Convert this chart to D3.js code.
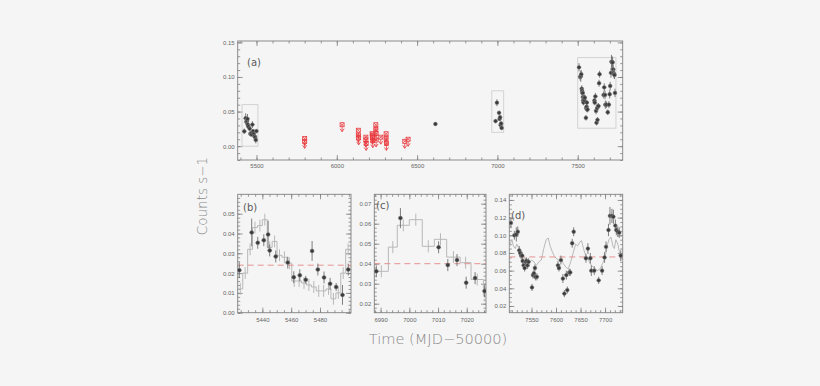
<!DOCTYPE html>
<html><head><meta charset="utf-8">
<script src="https://cdn.jsdelivr.net/npm/d3@7"></script>
<style>body{margin:0;background:#f5f5f5}</style>
</head><body>
<script>
// ---------------- DATA ----------------
// panel (b)
const bTime = [5424.0,5432.6,5436.8,5441.0,5444.0,5445.1,5449.3,5457.6,5461.8,5466.0,5470.1,5474.5,5478.5,5482.8,5487.0,5491.2,5495.6,5499.6];
const bRate = [0.0215,0.0405,0.0353,0.0366,0.0395,0.0314,0.0284,0.0253,0.0179,0.0189,0.0166,0.0312,0.0218,0.0178,0.0146,0.0130,0.0090,0.0218];
const bErr  = [0.004,0.007,0.003,0.003,0.007,0.003,0.003,0.003,0.003,0.003,0.002,0.005,0.003,0.003,0.003,0.002,0.005,0.003];
const bModelEdge = [5423,5426.4,5429.8,5433.2,5436.6,5440,5443.4,5446.8,5450.2,5453.6,5457,5460.4,5463.8,5467.2,5470.6,5474,5477.4,5480.8,5484.2,5487.6,5491,5494.4,5497.8,5501.2];
const bModelRate = [0.012,0.020,0.032,0.043,0.044,0.047,0.033,0.036,0.029,0.028,0.025,0.016,0.016,0.015,0.014,0.013,0.011,0.011,0.012,0.007,0.010,0.020,0.032];
const bMean = 0.024;

// panel (c)
const cTime = [6988.5,6996.9,7010.2,7013.4,7016.6,7019.8,7022.9,7026.2];
const cRate = [0.0362,0.0628,0.0482,0.0393,0.0418,0.0305,0.0328,0.0263];
const cErr  = [0.003,0.005,0.003,0.003,0.003,0.003,0.003,0.003];
const cModelEdge = [6987.8,6992.7,6995.8,7000,7004.5,7008.7,7013,7017.7,7021.5,7025.8,7027];
const cModelRate = [0.0362,0.0483,0.0592,0.062,0.0487,0.0522,0.0433,0.0405,0.0321,0.024];
const cMean = 0.040;

// panel (d)
const dTime = [7508,7515,7519,7522,7525,7527,7529,7531,7532,7534,7536,7538,7540,7542,7544,7551,7553,7555,7557,7558,7561,7604,7606,7610,7614,7617,7621,7623,7627,7629,7633,7636,7661,7665,7670,7672,7678,7687,7694,7699,7702,7707,7710,7714,7717,7721,7723,7726,7729,7732];
const dRate = [0.114,0.100,0.101,0.104,0.083,0.080,0.077,0.077,0.071,0.066,0.063,0.070,0.071,0.066,0.070,0.041,0.055,0.057,0.063,0.053,0.053,0.066,0.063,0.072,0.051,0.034,0.055,0.038,0.058,0.058,0.091,0.104,0.074,0.085,0.074,0.060,0.060,0.049,0.060,0.075,0.087,0.106,0.122,0.122,0.121,0.111,0.106,0.104,0.103,0.077];
const dErr  = [0.006,0.005,0.008,0.006,0.005,0.004,0.004,0.004,0.004,0.004,0.004,0.004,0.004,0.004,0.004,0.004,0.004,0.004,0.004,0.004,0.004,0.005,0.004,0.005,0.005,0.004,0.005,0.004,0.004,0.004,0.005,0.005,0.005,0.006,0.006,0.006,0.005,0.004,0.005,0.006,0.006,0.007,0.010,0.008,0.008,0.007,0.006,0.006,0.006,0.006];
const dModelTime = [7505,7508,7510,7513,7517,7520,7524,7527,7530,7535,7540,7545,7550,7555,7560,7565,7570,7575,7580,7584,7588,7592,7596,7600,7605,7610,7615,7620,7625,7630,7635,7640,7644,7648,7652,7656,7660,7664,7668,7672,7676,7680,7685,7690,7695,7700,7704,7708,7712,7716,7719,7722,7726,7729,7733,7736];
const dModelRate = [0.086,0.092,0.095,0.088,0.085,0.090,0.086,0.080,0.078,0.075,0.070,0.068,0.072,0.070,0.066,0.070,0.072,0.085,0.095,0.097,0.088,0.082,0.077,0.074,0.072,0.073,0.068,0.064,0.062,0.070,0.080,0.090,0.088,0.092,0.094,0.085,0.078,0.075,0.070,0.066,0.064,0.062,0.060,0.062,0.068,0.075,0.088,0.095,0.098,0.088,0.085,0.095,0.090,0.082,0.075,0.070];
const dMean = 0.0755;

// panel (a) extra points
const isoTime = [6614];
const isoRate = [0.032];
const isoErr  = [0.002];
const ulTime = [5800,5800,6033,6134,6134,6136,6181,6181,6183,6220,6222,6222,6224,6243,6243,6245,6245,6274,6307,6307,6309,6423,6444];
const ulRate = [0.011,0.007,0.031,0.023,0.016,0.012,0.013,0.009,0.004,0.018,0.016,0.013,0.008,0.031,0.024,0.018,0.009,0.013,0.018,0.011,0.004,0.007,0.010];
// zoom boxes in panel (a): [t0,t1,r0,r1]
const boxT0 = [5410,6965,7500];
const boxT1 = [5509,7039,7738];
const boxR0 = [0.0,0.02,0.026];
const boxR1 = [0.06,0.08,0.128];

// ticks
const aXTicks = [5500,6000,6500,7000,7500];
const aYTicks = [0.00,0.05,0.10,0.15];
const bXTicks = [5440,5460,5480];
const bYTicks = [0.00,0.01,0.02,0.03,0.04,0.05];
const cXTicks = [6990,7000,7010,7020];
const cYTicks = [0.02,0.03,0.04,0.05,0.06,0.07];
const dXTicks = [7550,7600,7650,7700];
const dYTicks = [0.02,0.04,0.06,0.08,0.10,0.12,0.14];

// ---------------- DRAW ----------------
const W=820,H=386;
const svg=d3.select('body').append('svg').attr('width',W).attr('height',H);
svg.append('rect').attr('width',W).attr('height',H).attr('fill','#f5f5f5');
const AX='#808080', TXT='#666', PT='#3a3a3a', EB='#707070', MOD='#b8b8b8';
let clipId=0;

function panel(cfg){
  const x=d3.scaleLinear().domain(cfg.xd).range([cfg.l,cfg.r]);
  const y=d3.scaleLinear().domain(cfg.yd).range([cfg.b,cfg.t]);
  const g=svg.append('g');
  const id='clip'+(clipId++);
  svg.append('clipPath').attr('id',id).append('rect')
    .attr('x',cfg.l).attr('y',cfg.t).attr('width',cfg.r-cfg.l).attr('height',cfg.b-cfg.t);
  const fmtY=d3.format('.2f');
  const minX=d3.range(Math.ceil(cfg.xd[0]/cfg.xm)*cfg.xm,cfg.xd[1],cfg.xm);
  const minY=d3.range(Math.ceil(cfg.yd[0]/cfg.ym-1e-6)*cfg.ym,cfg.yd[1],cfg.ym);
  const style=sel=>{sel.select('.domain').remove();sel.selectAll('line').attr('stroke',AX).attr('stroke-width',0.8);
    sel.selectAll('text').attr('fill',TXT).style('font-family','Liberation Sans, Arial, sans-serif').style('font-size','6px');};
  // minor
  g.append('g').attr('transform',`translate(0,${cfg.b})`).call(d3.axisBottom(x).tickValues(minX).tickSize(-2.5).tickFormat('')).call(style);
  g.append('g').attr('transform',`translate(0,${cfg.t})`).call(d3.axisTop(x).tickValues(minX).tickSize(-2.5).tickFormat('')).call(style);
  g.append('g').attr('transform',`translate(${cfg.l},0)`).call(d3.axisLeft(y).tickValues(minY).tickSize(-2.5).tickFormat('')).call(style);
  g.append('g').attr('transform',`translate(${cfg.r},0)`).call(d3.axisRight(y).tickValues(minY).tickSize(-2.5).tickFormat('')).call(style);
  // major
  g.append('g').attr('transform',`translate(0,${cfg.b})`).call(d3.axisBottom(x).tickValues(cfg.xt).tickSize(-5).tickPadding(cfg.xpad).tickFormat(d3.format('d'))).call(style);
  g.append('g').attr('transform',`translate(0,${cfg.t})`).call(d3.axisTop(x).tickValues(cfg.xt).tickSize(-5).tickFormat('')).call(style);
  g.append('g').attr('transform',`translate(${cfg.l},0)`).call(d3.axisLeft(y).tickValues(cfg.yt).tickSize(-5).tickPadding(3).tickFormat(fmtY)).call(style);
  g.append('g').attr('transform',`translate(${cfg.r},0)`).call(d3.axisRight(y).tickValues(cfg.yt).tickSize(-5).tickFormat('')).call(style);
  g.append('rect').attr('x',cfg.l).attr('y',cfg.t).attr('width',cfg.r-cfg.l).attr('height',cfg.b-cfg.t)
    .attr('fill','none').attr('stroke',AX).attr('stroke-width',0.9);
  g.append('text').attr('x',cfg.lx).attr('y',cfg.ly).text(cfg.label)
    .attr('fill','#5a5a5a').style('font-family','DejaVu Sans, sans-serif').style('font-size','10px');
  const inner=svg.append('g').attr('clip-path',`url(#${id})`);
  return {x,y,g:inner};
}

function drawPoints(p,T,R,E,hw,r){
  const gg=p.g.append('g');
  T.forEach((t,i)=>{
    const cx=p.x(t), cy=p.y(R[i]);
    gg.append('line').attr('x1',cx).attr('x2',cx).attr('y1',p.y(R[i]-E[i])).attr('y2',p.y(R[i]+E[i]))
      .attr('stroke',EB).attr('stroke-width',0.9);
    gg.append('line').attr('x1',cx-hw).attr('x2',cx+hw).attr('y1',cy).attr('y2',cy)
      .attr('stroke',EB).attr('stroke-width',0.9);
    gg.append('circle').attr('cx',cx).attr('cy',cy).attr('r',r).attr('fill',PT).attr('stroke','#888').attr('stroke-width',0.5);
  });
}
function drawSteps(p,edges,rates){
  const pts=[];
  rates.forEach((r,i)=>{pts.push([edges[i],r]);pts.push([edges[i+1],r]);});
  p.g.append('path').attr('d',d3.line().x(d=>p.x(d[0])).y(d=>p.y(d[1]))(pts))
    .attr('fill','none').attr('stroke',MOD).attr('stroke-width',1);
  rates.forEach((r,i)=>{
    const m=(edges[i]+edges[i+1])/2;
    p.g.append('line').attr('x1',p.x(m)).attr('x2',p.x(m)).attr('y1',p.y(r-0.003)).attr('y2',p.y(r+0.003))
      .attr('stroke',MOD).attr('stroke-width',1);
  });
}
function drawMean(p,m,xd){
  p.g.append('line').attr('x1',p.x(xd[0])).attr('x2',p.x(xd[1])).attr('y1',p.y(m)).attr('y2',p.y(m))
    .attr('stroke','#e89090').attr('stroke-width',1).attr('stroke-dasharray','6,4');
}

// panel (a)
const aX=[5383,7780], aY=[-0.02,0.152];
const pa=panel({xd:aX,yd:aY,l:237.7,r:622.7,t:41,b:160,xt:aXTicks,yt:aYTicks,xm:100,ym:0.01,xpad:4,label:'(a)',lx:247,ly:66});
boxT0.forEach((t,i)=>{
  pa.g.append('rect').attr('x',pa.x(t)).attr('y',pa.y(boxR1[i])).attr('width',pa.x(boxT1[i])-pa.x(t))
    .attr('height',pa.y(boxR0[i])-pa.y(boxR1[i])).attr('fill','none').attr('stroke','#cfcfcf').attr('stroke-width',0.9);
});
drawPoints(pa,bTime,bRate,bErr,2,1.9);
drawPoints(pa,cTime,cRate,cErr,2,1.9);
drawPoints(pa,dTime,dRate,dErr,2,1.9);
drawPoints(pa,isoTime,isoRate,isoErr,2,1.9);
// upper limits
ulTime.forEach((t,i)=>{
  const cx=pa.x(t), cy=pa.y(ulRate[i]);
  const g=pa.g.append('g').attr('stroke','#e8383d').attr('stroke-width',0.8).attr('fill','none');
  g.append('rect').attr('x',cx-2).attr('y',cy-2).attr('width',4).attr('height',4);
  g.append('path').attr('d',`M${cx-1.6},${cy-1.6}L${cx+1.6},${cy+1.6}M${cx+1.6},${cy-1.6}L${cx-1.6},${cy+1.6}`);
  g.append('path').attr('d',`M${cx},${cy+2}L${cx},${cy+7}M${cx-2},${cy+4}L${cx},${cy+7}L${cx+2},${cy+4}`);
});

// panel (b)
const bX=[5422.9,5501.5], bY=[0,0.0598];
const pb=panel({xd:bX,yd:bY,l:237.7,r:351,t:194.3,b:312.7,xt:bXTicks,yt:bYTicks,xm:5,ym:0.002,xpad:5,label:'(b)',lx:243,ly:211});
drawSteps(pb,bModelEdge,bModelRate);
drawMean(pb,bMean,bX);
drawPoints(pb,bTime,bRate,bErr,2,2);

// panel (c)
const cX=[6987.8,7026.7], cY=[0.0155,0.0747];
const pc=panel({xd:cX,yd:cY,l:374.3,r:486,t:194.3,b:312.7,xt:cXTicks,yt:cYTicks,xm:2,ym:0.002,xpad:5,label:'(c)',lx:376,ly:209});
drawSteps(pc,cModelEdge,cModelRate);
drawMean(pc,cMean,cX);
drawPoints(pc,cTime,cRate,cErr,2,2);

// panel (d)
const dX=[7504.7,7736], dY=[0.0124,0.1464];
const pd=panel({xd:dX,yd:dY,l:509.3,r:622.7,t:194.3,b:312.7,xt:dXTicks,yt:dYTicks,xm:10,ym:0.005,xpad:5,label:'(d)',lx:511,ly:219});
pd.g.append('path').attr('d',d3.line().x((d,i)=>pd.x(dModelTime[i])).y((d,i)=>pd.y(dModelRate[i]))(dModelTime))
  .attr('fill','none').attr('stroke',MOD).attr('stroke-width',1);
drawMean(pd,dMean,dX);
drawPoints(pd,dTime,dRate,dErr,1.8,1.9);

// titles
svg.append('text').attr('x',438).attr('y',344).attr('text-anchor','middle').text('Time (MJD\u221250000)')
  .attr('fill','#888').style('font-family','DejaVu Sans, sans-serif').style('font-size','14.6px').style('font-weight',200);
svg.append('text').attr('transform','translate(207,196) rotate(-90)').attr('text-anchor','middle').text('Counts s\u22121')
  .attr('fill','#888').style('font-family','DejaVu Sans, sans-serif').style('font-size','13.5px').style('font-weight',200);
</script>
</body></html>
